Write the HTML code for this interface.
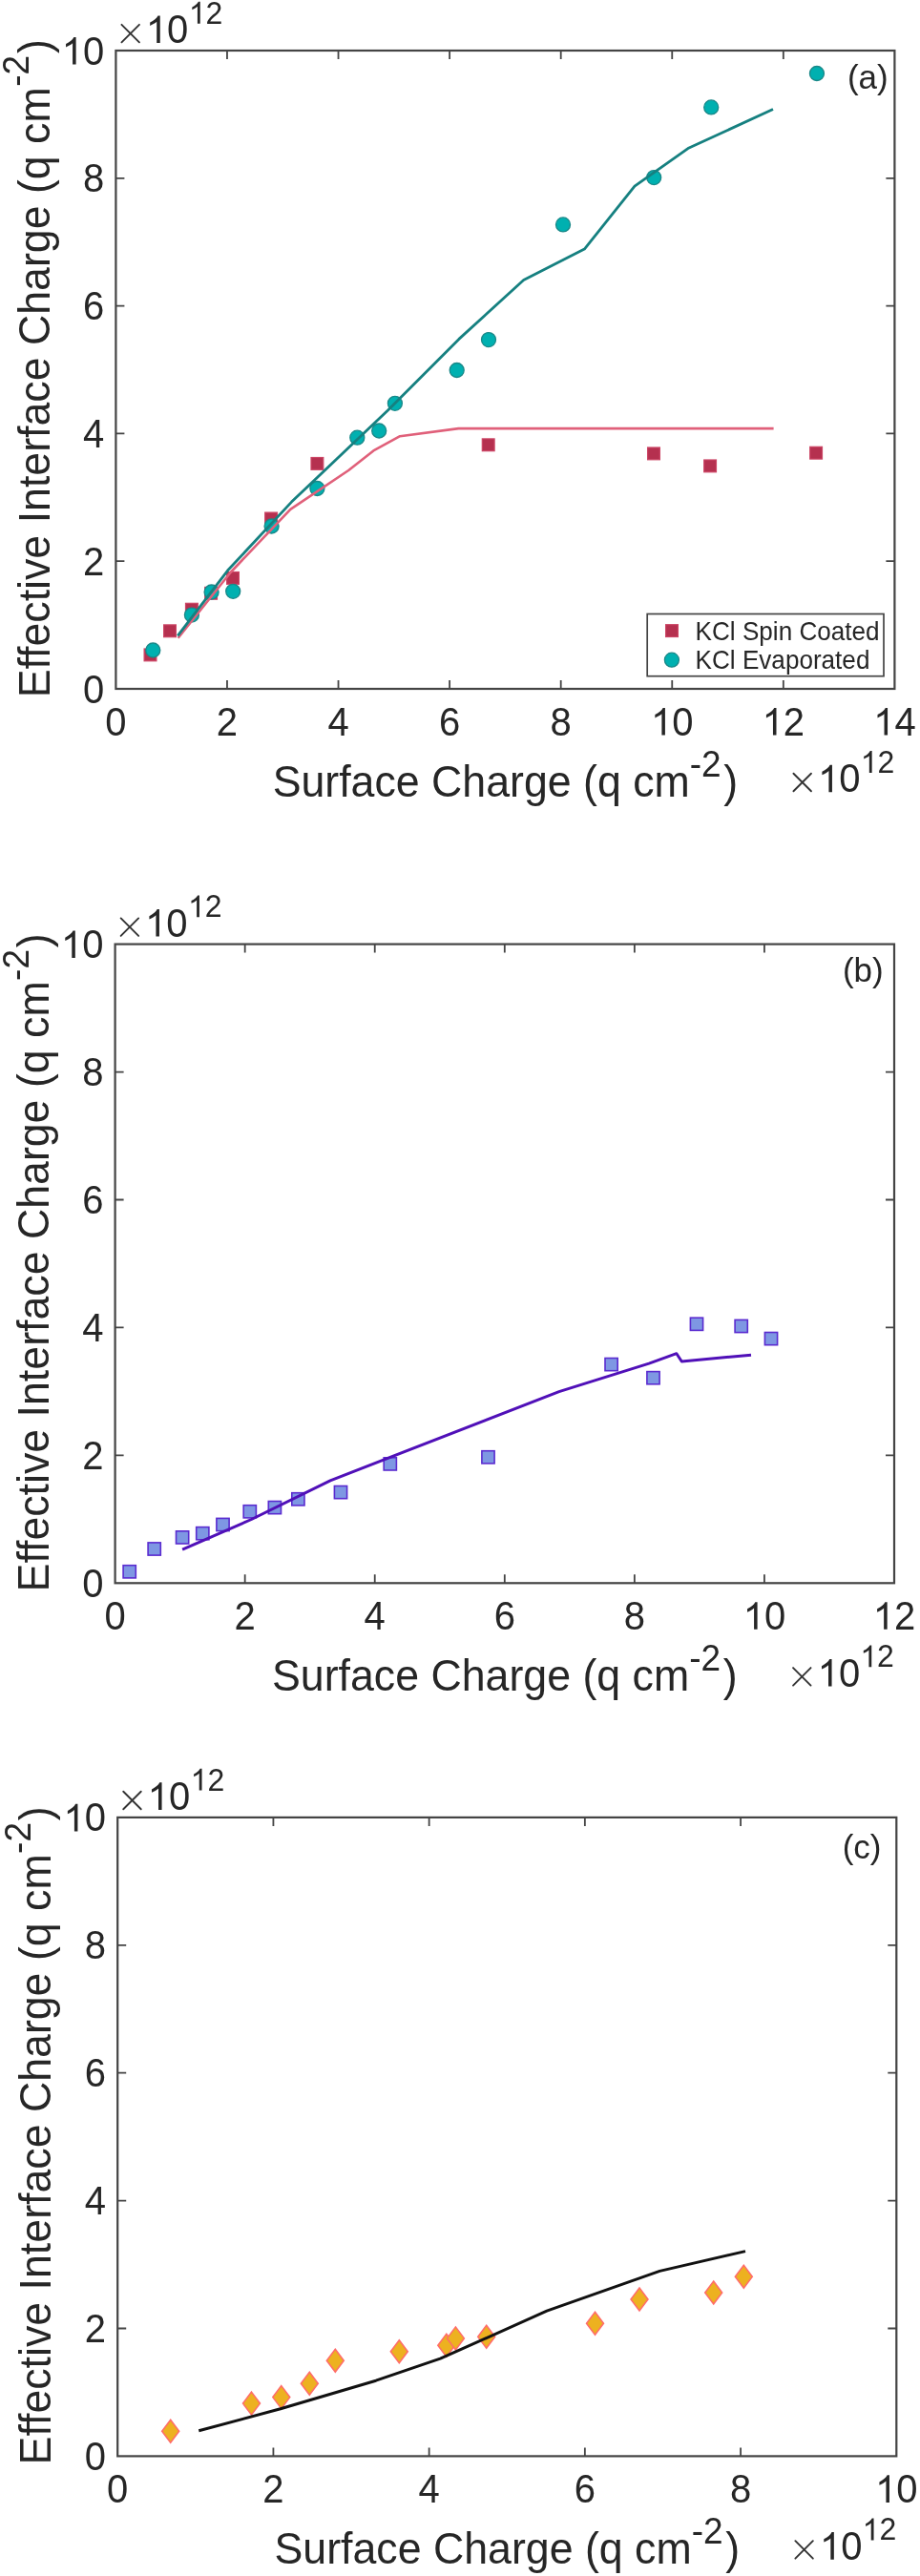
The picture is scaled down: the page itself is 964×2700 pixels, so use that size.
<!DOCTYPE html>
<html><head><meta charset="utf-8"><style>html,body{margin:0;padding:0;background:#fff;width:964px;height:2700px;overflow:hidden}svg{display:block;will-change:transform}</style></head>
<body>
<svg width="964" height="2700" viewBox="0 0 964 2700" font-family="'Liberation Sans', sans-serif" fill="#262626">
<rect width="964" height="2700" fill="#fff"/>
<defs><path id="one" d="M763 0H583V1098Q518 1039 412.5 979Q307 920 223 890V1057Q374 1125 487 1221Q600 1318 647 1409H763Z"/></defs>
<rect x="151.1" y="680" width="12.8" height="12.8" fill="#B5304F" stroke="#CC4565" stroke-width="1.2"/>
<rect x="171.6" y="654.9" width="12.8" height="12.8" fill="#B5304F" stroke="#CC4565" stroke-width="1.2"/>
<rect x="194.5" y="632.3" width="12.8" height="12.8" fill="#B5304F" stroke="#CC4565" stroke-width="1.2"/>
<rect x="214.7" y="615.4" width="12.8" height="12.8" fill="#B5304F" stroke="#CC4565" stroke-width="1.2"/>
<rect x="237.6" y="599.5" width="12.8" height="12.8" fill="#B5304F" stroke="#CC4565" stroke-width="1.2"/>
<rect x="277.7" y="537.1" width="12.8" height="12.8" fill="#B5304F" stroke="#CC4565" stroke-width="1.2"/>
<rect x="326" y="479.5" width="12.8" height="12.8" fill="#B5304F" stroke="#CC4565" stroke-width="1.2"/>
<rect x="505.3" y="459.9" width="12.8" height="12.8" fill="#B5304F" stroke="#CC4565" stroke-width="1.2"/>
<rect x="678.6" y="469" width="12.8" height="12.8" fill="#B5304F" stroke="#CC4565" stroke-width="1.2"/>
<rect x="737.7" y="482" width="12.8" height="12.8" fill="#B5304F" stroke="#CC4565" stroke-width="1.2"/>
<rect x="848.7" y="468.3" width="12.8" height="12.8" fill="#B5304F" stroke="#CC4565" stroke-width="1.2"/>
<circle cx="160.3" cy="681.5" r="7.5" fill="#00B0B0" stroke="#1A8888" stroke-width="1.3"/>
<circle cx="200.9" cy="644.6" r="7.5" fill="#00B0B0" stroke="#1A8888" stroke-width="1.3"/>
<circle cx="221.6" cy="620.5" r="7.5" fill="#00B0B0" stroke="#1A8888" stroke-width="1.3"/>
<circle cx="244.2" cy="619.8" r="7.5" fill="#00B0B0" stroke="#1A8888" stroke-width="1.3"/>
<circle cx="284.6" cy="551.5" r="7.5" fill="#00B0B0" stroke="#1A8888" stroke-width="1.3"/>
<circle cx="332.4" cy="512" r="7.5" fill="#00B0B0" stroke="#1A8888" stroke-width="1.3"/>
<circle cx="374.3" cy="458.7" r="7.5" fill="#00B0B0" stroke="#1A8888" stroke-width="1.3"/>
<circle cx="397.2" cy="451.5" r="7.5" fill="#00B0B0" stroke="#1A8888" stroke-width="1.3"/>
<circle cx="413.9" cy="422.8" r="7.5" fill="#00B0B0" stroke="#1A8888" stroke-width="1.3"/>
<circle cx="478.7" cy="388" r="7.5" fill="#00B0B0" stroke="#1A8888" stroke-width="1.3"/>
<circle cx="512" cy="356.1" r="7.5" fill="#00B0B0" stroke="#1A8888" stroke-width="1.3"/>
<circle cx="590" cy="235.4" r="7.5" fill="#00B0B0" stroke="#1A8888" stroke-width="1.3"/>
<circle cx="685.2" cy="186.1" r="7.5" fill="#00B0B0" stroke="#1A8888" stroke-width="1.3"/>
<circle cx="745.2" cy="112.4" r="7.5" fill="#00B0B0" stroke="#1A8888" stroke-width="1.3"/>
<circle cx="855.95" cy="77" r="7.5" fill="#00B0B0" stroke="#1A8888" stroke-width="1.3"/>
<path d="M186.6 668.8L242 599.5L304.3 533.9L365.2 493L391.3 472.4L419.1 457.2L480.4 449.1L810.6 449.1" stroke="#E0607A" stroke-width="2.6" fill="none" stroke-linejoin="round" stroke-linecap="butt"/>
<path d="M186.2 666.3L238.7 597.8L305.5 526.1L406.5 430L480.9 355.4L548.7 293.5L612.4 261.1L665 195.2L720.9 155.6L810 114.5" stroke="#168080" stroke-width="2.8" fill="none" stroke-linejoin="round" stroke-linecap="butt"/>
<rect x="121.4" y="53" width="816" height="669" fill="none" stroke="#444444" stroke-width="2.2"/>
<path d="M237.97 722V713M237.97 53V62M354.54 722V713M354.54 53V62M471.11 722V713M471.11 53V62M587.69 722V713M587.69 53V62M704.26 722V713M704.26 53V62M820.83 722V713M820.83 53V62M121.4 588.2H130.4M937.4 588.2H928.4M121.4 454.4H130.4M937.4 454.4H928.4M121.4 320.6H130.4M937.4 320.6H928.4M121.4 186.8H130.4M937.4 186.8H928.4" stroke="#444444" stroke-width="1.8" fill="none"/>
<text transform="translate(110.28 770.5) scale(1 1.04)" font-size="40">0</text>
<text transform="translate(226.85 770.5) scale(1 1.04)" font-size="40">2</text>
<text transform="translate(343.42 770.5) scale(1 1.04)" font-size="40">4</text>
<text transform="translate(459.99 770.5) scale(1 1.04)" font-size="40">6</text>
<text transform="translate(576.56 770.5) scale(1 1.04)" font-size="40">8</text>
<use href="#one" transform="translate(682.01 770.5) scale(0.01953 -0.02031)"/><text transform="translate(704.26 770.5) scale(1 1.04)" font-size="40">0</text>
<use href="#one" transform="translate(798.58 770.5) scale(0.01953 -0.02031)"/><text transform="translate(820.83 770.5) scale(1 1.04)" font-size="40">2</text>
<use href="#one" transform="translate(915.15 770.5) scale(0.01953 -0.02031)"/><text transform="translate(937.4 770.5) scale(1 1.04)" font-size="40">4</text>
<text transform="translate(86.95 736.5) scale(1 1.04)" font-size="40">0</text>
<text transform="translate(86.95 602.7) scale(1 1.04)" font-size="40">2</text>
<text transform="translate(86.95 468.9) scale(1 1.04)" font-size="40">4</text>
<text transform="translate(86.95 335.1) scale(1 1.04)" font-size="40">6</text>
<text transform="translate(86.95 201.3) scale(1 1.04)" font-size="40">8</text>
<use href="#one" transform="translate(64.71 67.5) scale(0.01953 -0.02031)"/><text transform="translate(86.95 67.5) scale(1 1.04)" font-size="40">0</text>
<text transform="translate(529.4 835) scale(1 1.04)" font-size="44.7" text-anchor="middle">Surface Charge (q cm<tspan font-size="37" dx="0" dy="-20.6">-2</tspan><tspan dx="2.6" dy="20.6">)</tspan></text>
<text transform="translate(51.5 386.3) rotate(-90) scale(1 1.04)" font-size="44.7" text-anchor="middle">Effective Interface Charge (q cm<tspan font-size="37" dx="0.5" dy="-20.6">-2</tspan><tspan dx="1.8" dy="20.6">)</tspan></text>
<path d="M127.45 25.85L145.95 44.35M145.95 25.85L127.45 44.35" stroke="#333" stroke-width="1.9" fill="none" stroke-linecap="round"/>
<use href="#one" transform="translate(152.84 45) scale(0.01953 -0.02031)"/><text transform="translate(175.09 45) scale(1 1.04)" font-size="40">0</text>
<use href="#one" transform="translate(197.82 24.7) scale(0.01562 -0.01625)"/><text transform="translate(215.61 24.7) scale(1 1.04)" font-size="32">2</text>
<path d="M831.45 810.75L849.95 829.25M849.95 810.75L831.45 829.25" stroke="#333" stroke-width="1.9" fill="none" stroke-linecap="round"/>
<use href="#one" transform="translate(857.04 830.3) scale(0.01953 -0.02031)"/><text transform="translate(879.29 830.3) scale(1 1.04)" font-size="40">0</text>
<use href="#one" transform="translate(901.72 810) scale(0.01562 -0.01625)"/><text transform="translate(919.51 810) scale(1 1.04)" font-size="32">2</text>
<text x="887.9" y="92.5" font-size="35">(a)</text>
<rect x="678.2" y="643.5" width="247.8" height="65.2" fill="#fff" stroke="#444444" stroke-width="1.7"/>
<rect x="697.6" y="654.7" width="12.8" height="12.8" fill="#B5304F" stroke="#CC4565" stroke-width="1.2"/>
<circle cx="703.9" cy="691.7" r="7.5" fill="#00B0B0" stroke="#1A8888" stroke-width="1.3"/>
<text transform="translate(728.6 670.5) scale(1 1.04)" font-size="26" textLength="193" lengthAdjust="spacingAndGlyphs">KCl Spin Coated</text>
<text transform="translate(728.6 701.3) scale(1 1.04)" font-size="26" textLength="182.8" lengthAdjust="spacingAndGlyphs">KCl Evaporated</text>
<rect x="129.1" y="1640.7" width="13.2" height="13.2" fill="#7E97E3" stroke="#5A2BD0" stroke-width="1.6"/>
<rect x="155.1" y="1616.9" width="13.2" height="13.2" fill="#7E97E3" stroke="#5A2BD0" stroke-width="1.6"/>
<rect x="184.5" y="1604.8" width="13.2" height="13.2" fill="#7E97E3" stroke="#5A2BD0" stroke-width="1.6"/>
<rect x="205.7" y="1600.6" width="13.2" height="13.2" fill="#7E97E3" stroke="#5A2BD0" stroke-width="1.6"/>
<rect x="226.9" y="1591.4" width="13.2" height="13.2" fill="#7E97E3" stroke="#5A2BD0" stroke-width="1.6"/>
<rect x="255.2" y="1577.7" width="13.2" height="13.2" fill="#7E97E3" stroke="#5A2BD0" stroke-width="1.6"/>
<rect x="281.3" y="1573.5" width="13.2" height="13.2" fill="#7E97E3" stroke="#5A2BD0" stroke-width="1.6"/>
<rect x="305.8" y="1564.7" width="13.2" height="13.2" fill="#7E97E3" stroke="#5A2BD0" stroke-width="1.6"/>
<rect x="350.4" y="1557.5" width="13.2" height="13.2" fill="#7E97E3" stroke="#5A2BD0" stroke-width="1.6"/>
<rect x="402.2" y="1527.8" width="13.2" height="13.2" fill="#7E97E3" stroke="#5A2BD0" stroke-width="1.6"/>
<rect x="504.9" y="1520.7" width="13.2" height="13.2" fill="#7E97E3" stroke="#5A2BD0" stroke-width="1.6"/>
<rect x="634" y="1423.5" width="13.2" height="13.2" fill="#7E97E3" stroke="#5A2BD0" stroke-width="1.6"/>
<rect x="677.9" y="1437.6" width="13.2" height="13.2" fill="#7E97E3" stroke="#5A2BD0" stroke-width="1.6"/>
<rect x="723.4" y="1381.2" width="13.2" height="13.2" fill="#7E97E3" stroke="#5A2BD0" stroke-width="1.6"/>
<rect x="770.1" y="1383.4" width="13.2" height="13.2" fill="#7E97E3" stroke="#5A2BD0" stroke-width="1.6"/>
<rect x="801.4" y="1396.5" width="13.2" height="13.2" fill="#7E97E3" stroke="#5A2BD0" stroke-width="1.6"/>
<path d="M191.1 1624.1L263.5 1592.5L346.1 1551.8L585.8 1458.6L680 1429.1L708.9 1418.7L714.3 1427L787 1420.2" stroke="#5010B8" stroke-width="3" fill="none" stroke-linejoin="round" stroke-linecap="butt"/>
<rect x="120.6" y="989.6" width="816.4" height="669.7" fill="none" stroke="#444444" stroke-width="2.2"/>
<path d="M256.67 1659.3V1650.3M256.67 989.6V998.6M392.73 1659.3V1650.3M392.73 989.6V998.6M528.8 1659.3V1650.3M528.8 989.6V998.6M664.87 1659.3V1650.3M664.87 989.6V998.6M800.93 1659.3V1650.3M800.93 989.6V998.6M120.6 1525.36H129.6M937 1525.36H928M120.6 1391.42H129.6M937 1391.42H928M120.6 1257.48H129.6M937 1257.48H928M120.6 1123.54H129.6M937 1123.54H928" stroke="#444444" stroke-width="1.8" fill="none"/>
<text transform="translate(109.48 1707.8) scale(1 1.04)" font-size="40">0</text>
<text transform="translate(245.54 1707.8) scale(1 1.04)" font-size="40">2</text>
<text transform="translate(381.61 1707.8) scale(1 1.04)" font-size="40">4</text>
<text transform="translate(517.68 1707.8) scale(1 1.04)" font-size="40">6</text>
<text transform="translate(653.74 1707.8) scale(1 1.04)" font-size="40">8</text>
<use href="#one" transform="translate(778.69 1707.8) scale(0.01953 -0.02031)"/><text transform="translate(800.93 1707.8) scale(1 1.04)" font-size="40">0</text>
<use href="#one" transform="translate(914.75 1707.8) scale(0.01953 -0.02031)"/><text transform="translate(937 1707.8) scale(1 1.04)" font-size="40">2</text>
<text transform="translate(86.15 1673.8) scale(1 1.04)" font-size="40">0</text>
<text transform="translate(86.15 1539.86) scale(1 1.04)" font-size="40">2</text>
<text transform="translate(86.15 1405.92) scale(1 1.04)" font-size="40">4</text>
<text transform="translate(86.15 1271.98) scale(1 1.04)" font-size="40">6</text>
<text transform="translate(86.15 1138.04) scale(1 1.04)" font-size="40">8</text>
<use href="#one" transform="translate(63.91 1004.1) scale(0.01953 -0.02031)"/><text transform="translate(86.15 1004.1) scale(1 1.04)" font-size="40">0</text>
<text transform="translate(528.8 1772.3) scale(1 1.04)" font-size="44.7" text-anchor="middle">Surface Charge (q cm<tspan font-size="37" dx="0" dy="-20.6">-2</tspan><tspan dx="2.6" dy="20.6">)</tspan></text>
<text transform="translate(51 1323.35) rotate(-90) scale(1 1.04)" font-size="44.7" text-anchor="middle">Effective Interface Charge (q cm<tspan font-size="37" dx="0.5" dy="-20.6">-2</tspan><tspan dx="1.8" dy="20.6">)</tspan></text>
<path d="M126.65 962.45L145.15 980.95M145.15 962.45L126.65 980.95" stroke="#333" stroke-width="1.9" fill="none" stroke-linecap="round"/>
<use href="#one" transform="translate(152.04 981.6) scale(0.01953 -0.02031)"/><text transform="translate(174.29 981.6) scale(1 1.04)" font-size="40">0</text>
<use href="#one" transform="translate(197.02 961.3) scale(0.01562 -0.01625)"/><text transform="translate(214.81 961.3) scale(1 1.04)" font-size="32">2</text>
<path d="M831.05 1748.05L849.55 1766.55M849.55 1748.05L831.05 1766.55" stroke="#333" stroke-width="1.9" fill="none" stroke-linecap="round"/>
<use href="#one" transform="translate(856.64 1767.6) scale(0.01953 -0.02031)"/><text transform="translate(878.89 1767.6) scale(1 1.04)" font-size="40">0</text>
<use href="#one" transform="translate(901.32 1747.3) scale(0.01562 -0.01625)"/><text transform="translate(919.11 1747.3) scale(1 1.04)" font-size="32">2</text>
<text x="882.9" y="1029.3" font-size="35">(b)</text>
<path d="M178.7 2536.3L187.7 2548.3L178.7 2560.3L169.7 2548.3Z" fill="#EDB120" stroke="#FF6B6B" stroke-width="1.5"/>
<path d="M263.5 2507.1L272.5 2519.1L263.5 2531.1L254.5 2519.1Z" fill="#EDB120" stroke="#FF6B6B" stroke-width="1.5"/>
<path d="M294.8 2500.6L303.8 2512.6L294.8 2524.6L285.8 2512.6Z" fill="#EDB120" stroke="#FF6B6B" stroke-width="1.5"/>
<path d="M324.3 2486.3L333.3 2498.3L324.3 2510.3L315.3 2498.3Z" fill="#EDB120" stroke="#FF6B6B" stroke-width="1.5"/>
<path d="M351.3 2462.3L360.3 2474.3L351.3 2486.3L342.3 2474.3Z" fill="#EDB120" stroke="#FF6B6B" stroke-width="1.5"/>
<path d="M418.3 2452.8L427.3 2464.8L418.3 2476.8L409.3 2464.8Z" fill="#EDB120" stroke="#FF6B6B" stroke-width="1.5"/>
<path d="M467.8 2446.3L476.8 2458.3L467.8 2470.3L458.8 2458.3Z" fill="#EDB120" stroke="#FF6B6B" stroke-width="1.5"/>
<path d="M477.4 2438.9L486.4 2450.9L477.4 2462.9L468.4 2450.9Z" fill="#EDB120" stroke="#FF6B6B" stroke-width="1.5"/>
<path d="M509.7 2437.3L518.7 2449.3L509.7 2461.3L500.7 2449.3Z" fill="#EDB120" stroke="#FF6B6B" stroke-width="1.5"/>
<path d="M623.5 2423.2L632.5 2435.2L623.5 2447.2L614.5 2435.2Z" fill="#EDB120" stroke="#FF6B6B" stroke-width="1.5"/>
<path d="M670 2398L679 2410L670 2422L661 2410Z" fill="#EDB120" stroke="#FF6B6B" stroke-width="1.5"/>
<path d="M747.7 2391L756.7 2403L747.7 2415L738.7 2403Z" fill="#EDB120" stroke="#FF6B6B" stroke-width="1.5"/>
<path d="M779.3 2374.3L788.3 2386.3L779.3 2398.3L770.3 2386.3Z" fill="#EDB120" stroke="#FF6B6B" stroke-width="1.5"/>
<path d="M208.3 2547.8L293.9 2524.8L393.9 2495.2L461.3 2472.2L573 2422.2L691.3 2380.4L781 2359.6" stroke="#111111" stroke-width="3" fill="none" stroke-linejoin="round" stroke-linecap="butt"/>
<rect x="123.2" y="1904.9" width="816.1" height="669.5" fill="none" stroke="#444444" stroke-width="2.2"/>
<path d="M286.42 2574.4V2565.4M286.42 1904.9V1913.9M449.64 2574.4V2565.4M449.64 1904.9V1913.9M612.86 2574.4V2565.4M612.86 1904.9V1913.9M776.08 2574.4V2565.4M776.08 1904.9V1913.9M123.2 2440.5H132.2M939.3 2440.5H930.3M123.2 2306.6H132.2M939.3 2306.6H930.3M123.2 2172.7H132.2M939.3 2172.7H930.3M123.2 2038.8H132.2M939.3 2038.8H930.3" stroke="#444444" stroke-width="1.8" fill="none"/>
<text transform="translate(112.08 2622.9) scale(1 1.04)" font-size="40">0</text>
<text transform="translate(275.3 2622.9) scale(1 1.04)" font-size="40">2</text>
<text transform="translate(438.52 2622.9) scale(1 1.04)" font-size="40">4</text>
<text transform="translate(601.74 2622.9) scale(1 1.04)" font-size="40">6</text>
<text transform="translate(764.96 2622.9) scale(1 1.04)" font-size="40">8</text>
<use href="#one" transform="translate(917.05 2622.9) scale(0.01953 -0.02031)"/><text transform="translate(939.3 2622.9) scale(1 1.04)" font-size="40">0</text>
<text transform="translate(88.75 2588.9) scale(1 1.04)" font-size="40">0</text>
<text transform="translate(88.75 2455) scale(1 1.04)" font-size="40">2</text>
<text transform="translate(88.75 2321.1) scale(1 1.04)" font-size="40">4</text>
<text transform="translate(88.75 2187.2) scale(1 1.04)" font-size="40">6</text>
<text transform="translate(88.75 2053.3) scale(1 1.04)" font-size="40">8</text>
<use href="#one" transform="translate(66.51 1919.4) scale(0.01953 -0.02031)"/><text transform="translate(88.75 1919.4) scale(1 1.04)" font-size="40">0</text>
<text transform="translate(531.25 2687.4) scale(1 1.04)" font-size="44.7" text-anchor="middle">Surface Charge (q cm<tspan font-size="37" dx="0" dy="-20.6">-2</tspan><tspan dx="2.6" dy="20.6">)</tspan></text>
<text transform="translate(53 2238.35) rotate(-90) scale(1 1.04)" font-size="44.7" text-anchor="middle">Effective Interface Charge (q cm<tspan font-size="37" dx="0.5" dy="-20.6">-2</tspan><tspan dx="1.8" dy="20.6">)</tspan></text>
<path d="M129.25 1877.75L147.75 1896.25M147.75 1877.75L129.25 1896.25" stroke="#333" stroke-width="1.9" fill="none" stroke-linecap="round"/>
<use href="#one" transform="translate(154.64 1896.9) scale(0.01953 -0.02031)"/><text transform="translate(176.89 1896.9) scale(1 1.04)" font-size="40">0</text>
<use href="#one" transform="translate(199.62 1876.6) scale(0.01562 -0.01625)"/><text transform="translate(217.41 1876.6) scale(1 1.04)" font-size="32">2</text>
<path d="M833.35 2663.15L851.85 2681.65M851.85 2663.15L833.35 2681.65" stroke="#333" stroke-width="1.9" fill="none" stroke-linecap="round"/>
<use href="#one" transform="translate(858.94 2682.7) scale(0.01953 -0.02031)"/><text transform="translate(881.19 2682.7) scale(1 1.04)" font-size="40">0</text>
<use href="#one" transform="translate(903.62 2662.4) scale(0.01562 -0.01625)"/><text transform="translate(921.41 2662.4) scale(1 1.04)" font-size="32">2</text>
<text x="882.7" y="1948.1" font-size="35">(c)</text>
</svg>
</body></html>
